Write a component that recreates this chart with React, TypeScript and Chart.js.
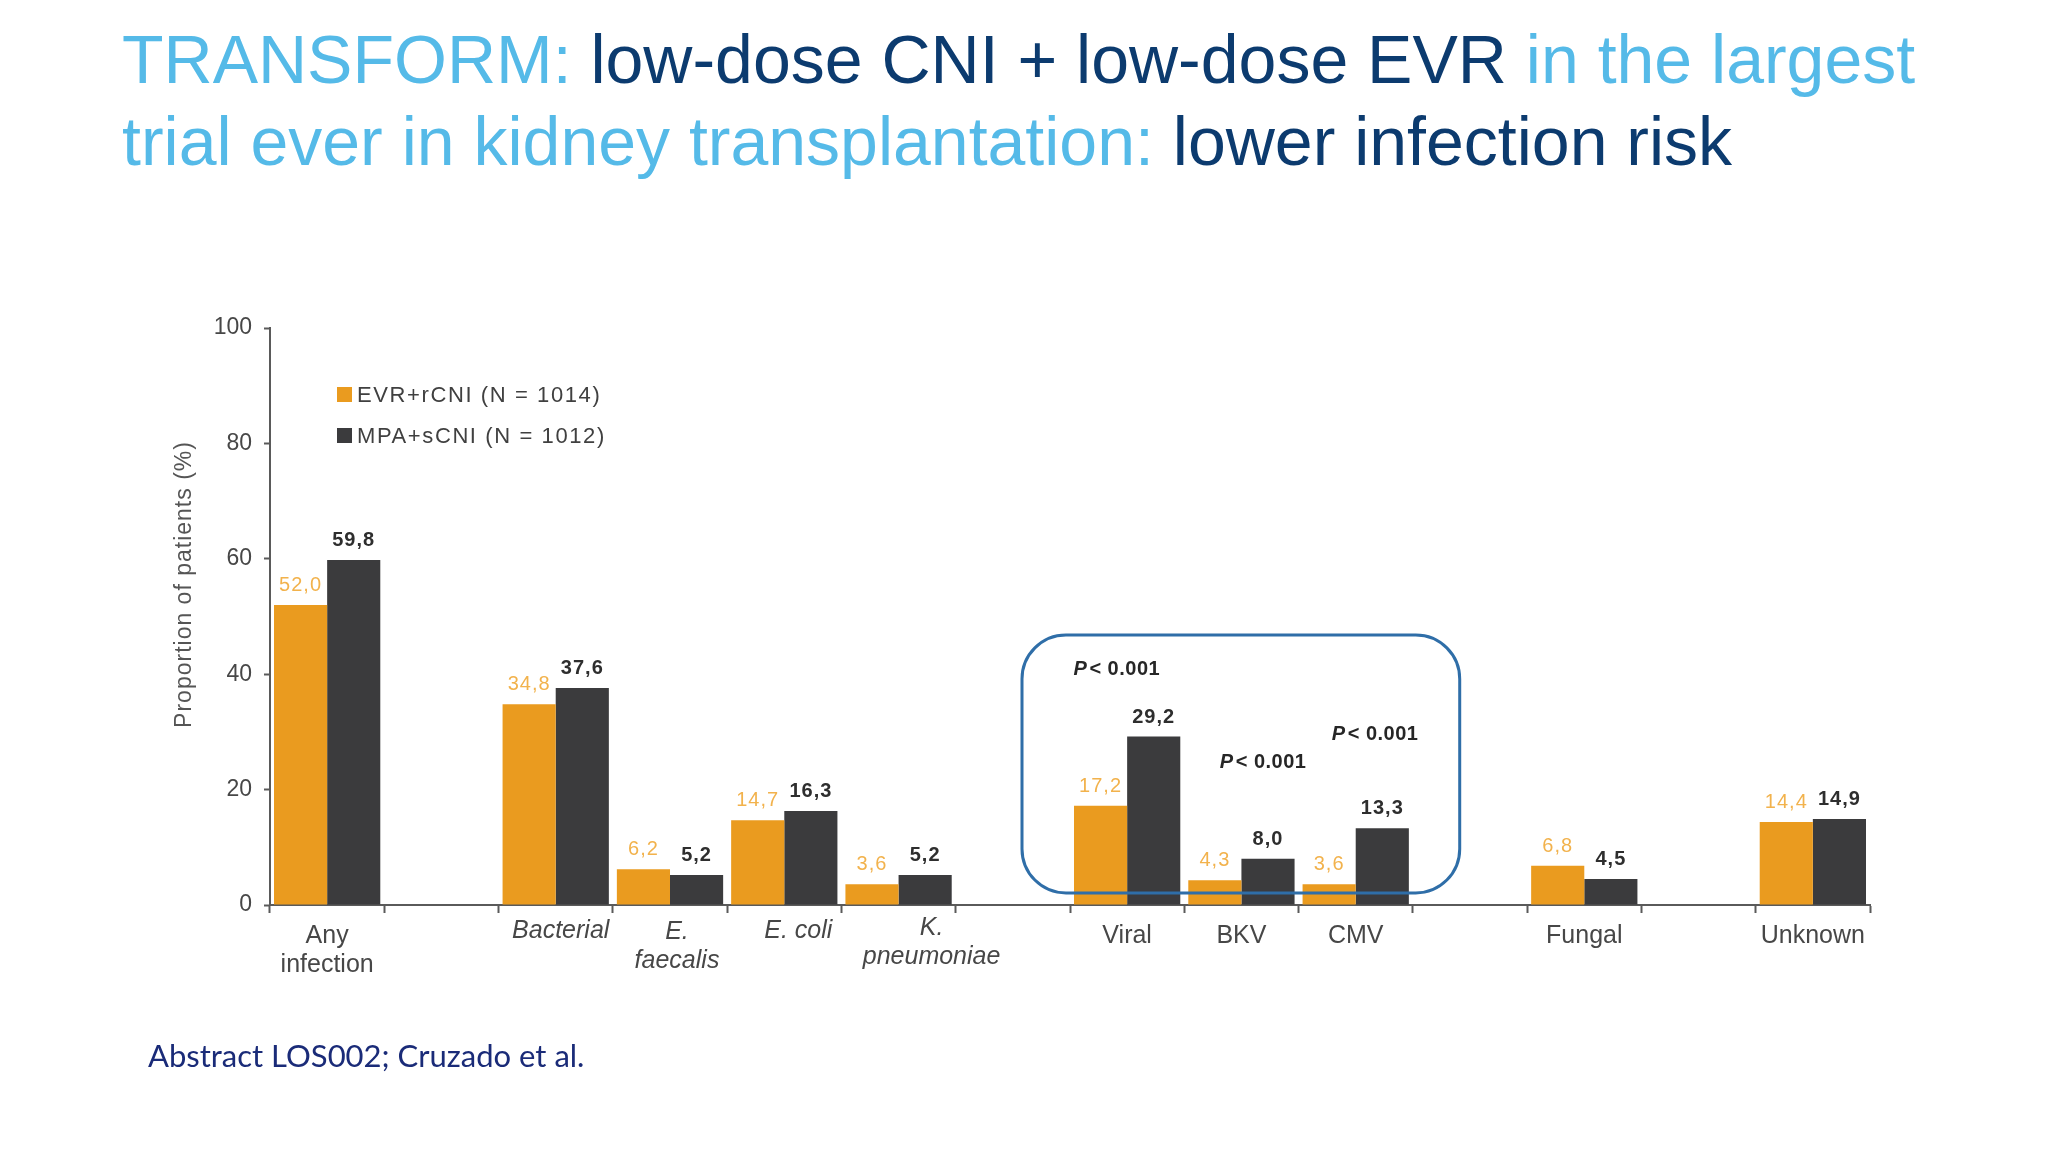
import { useEffect, useRef } from 'react';
import { Chart, registerables } from 'chart.js';

Chart.register(...registerables);

// ---- data ----
const categories: (string | string[])[] = [
  ['Any', 'infection'],
  '',
  'Bacterial',
  ['E.', 'faecalis'],
  'E. coli',
  ['K.', 'pneumoniae'],
  '',
  'Viral',
  'BKV',
  'CMV',
  '',
  'Fungal',
  '',
  'Unknown',
];
const evrRcni = [52.0, null, 34.8, 6.2, 14.7, 3.6, null, 17.2, 4.3, 3.6, null, 6.8, null, 14.4];
const mpaScni = [59.8, null, 37.6, 5.2, 16.3, 5.2, null, 29.2, 8.0, 13.3, null, 4.5, null, 14.9];
const seriesNames = ['EVR+rCNI (N = 1014)', 'MPA+sCNI (N = 1012)'];
const yTickValues = [0, 20, 40, 60, 80, 100];
const yAxisTitle = 'Proportion of patients (%)';
const italicCategories = ['Bacterial', 'E. faecalis', 'E. coli', 'K. pneumoniae'];

// significance notes for the viral group: category position and height on the % axis
const pNoteText = '< 0.001';
const pNoteAt = [6.91, 8.19, 9.17];
const pNoteLevel = [39.9, 23.7, 28.6];

// framed viral group, in category / % units
const viralFrameX = [6.08, 9.91];
const viralFrameY = [2.1, 46.8];

// ---- styles ----
const FONT = "'Liberation Sans', Arial, Helvetica, sans-serif";
const ORANGE = '#EA9B1F';
const DARK = '#3B3B3D';
const ORANGE_TEXT = '#F2B24C';
const AXIS = '#5a5a5a';
const LABEL = '#474747';

// small hand placement of the species labels under their bars (px)
const labelShift: Record<string, [number, number]> = {
  'Bacterial': [5, -5],
  'E. faecalis': [7, -4],
  'E. coli': [14, -5],
  'K. pneumoniae': [33, -8],
};

const fmt = (v: number) => v.toFixed(1).replace('.', ',');
const catName = (c: string | string[]) => (Array.isArray(c) ? c.join(' ') : c);

const overlay = {
  id: 'overlay',
  beforeDraw(chart: any) {
    const xs = chart.scales.x;
    const items = xs.getLabelItems(chart.chartArea);
    items.forEach((item: any, i: number) => {
      const shift = labelShift[catName(categories[i] ?? '')];
      if (!shift || item._shifted) return;
      item.options.translation = [
        item.options.translation[0] + shift[0],
        item.options.translation[1] + shift[1],
      ];
      item._shifted = true;
    });
  },
  afterDatasetsDraw(chart: any) {
    const { ctx, scales, chartArea } = chart;
    const xs = scales.x;
    const ys = scales.y;
    ctx.save();

    // value labels above bars
    ctx.textAlign = 'center';
    ctx.textBaseline = 'alphabetic';
    (ctx as any).letterSpacing = '1px';
    chart.data.datasets.forEach((ds: any, di: number) => {
      const meta = chart.getDatasetMeta(di);
      meta.data.forEach((bar: any, i: number) => {
        const v = ds.data[i];
        if (v === null || v === undefined) return;
        if (di === 0) {
          ctx.font = `normal 20px ${FONT}`;
          ctx.fillStyle = ORANGE_TEXT;
        } else {
          ctx.font = `bold 20px ${FONT}`;
          ctx.fillStyle = '#2e2e2e';
        }
        ctx.fillText(fmt(v), bar.x, bar.y - 14);
      });
    });

    // P-value notes
    (ctx as any).letterSpacing = '0.5px';
    ctx.fillStyle = '#262626';
    ctx.textAlign = 'left';
    pNoteAt.forEach((at, i) => {
      const cx = xs.getPixelForValue(at);
      const by = ys.getPixelForValue(pNoteLevel[i]);
      ctx.font = `italic bold 20px ${FONT}`;
      const wp = ctx.measureText('P').width;
      ctx.font = `bold 20px ${FONT}`;
      const wr = ctx.measureText(pNoteText).width;
      const gap = 2;
      const x0 = cx - (wp + gap + wr) / 2;
      ctx.font = `italic bold 20px ${FONT}`;
      ctx.fillText('P', x0, by);
      ctx.font = `bold 20px ${FONT}`;
      ctx.fillText(pNoteText, x0 + wp + gap, by);
    });

    // rounded frame around viral group
    const fx0 = xs.getPixelForValue(viralFrameX[0]);
    const fx1 = xs.getPixelForValue(viralFrameX[1]);
    const fy0 = ys.getPixelForValue(viralFrameY[1]);
    const fy1 = ys.getPixelForValue(viralFrameY[0]);
    ctx.beginPath();
    (ctx as any).roundRect(fx0, fy0, fx1 - fx0, fy1 - fy0, 44);
    ctx.strokeStyle = '#2F6EA8';
    ctx.lineWidth = 3;
    ctx.stroke();

    // legend, top-left inside the plot area
    (ctx as any).letterSpacing = '1.6px';
    ctx.font = `normal 22px ${FONT}`;
    ctx.textAlign = 'left';
    const lx = chartArea.left + 67;
    const ly = [chartArea.top + 74, chartArea.top + 115];
    chart.data.datasets.forEach((ds: any, di: number) => {
      ctx.fillStyle = ds.backgroundColor;
      ctx.fillRect(lx, ly[di] - 15, 15, 15);
      ctx.fillStyle = '#404040';
      ctx.fillText(ds.label, lx + 20, ly[di]);
    });

    ctx.restore();
  },
  afterDraw(chart: any) {
    const { ctx, chartArea } = chart;
    ctx.save();
    (ctx as any).letterSpacing = '1px';
    ctx.font = `normal 23px ${FONT}`;
    ctx.fillStyle = '#555';
    ctx.textAlign = 'center';
    ctx.textBaseline = 'middle';
    ctx.translate(chartArea.left - 85, (chartArea.top + chartArea.bottom) / 2 - 32);
    ctx.rotate(-Math.PI / 2);
    ctx.fillText(yAxisTitle, 0, 0);
    ctx.restore();
  },
};

function InfectionChart() {
  const ref = useRef<HTMLCanvasElement | null>(null);

  useEffect(() => {
    if (!ref.current) return;
    const chart = new Chart(ref.current, {
      type: 'bar',
      data: {
        labels: categories,
        datasets: [
          { label: seriesNames[0], data: evrRcni, backgroundColor: ORANGE, borderWidth: 0 },
          { label: seriesNames[1], data: mpaScni, backgroundColor: DARK, borderWidth: 0 },
        ],
      },
      options: {
        animation: false,
        responsive: false,
        devicePixelRatio: 1,
        layout: { padding: { left: 170, top: 328, right: 178, bottom: 147 } },
        datasets: { bar: { categoryPercentage: 0.93, barPercentage: 1.0 } },
        plugins: {
          legend: { display: false },
          tooltip: { enabled: false },
        },
        scales: {
          x: {
            offset: true,
            grid: {
              display: true,
              drawOnChartArea: false,
              offset: true,
              tickLength: 8,
              tickColor: AXIS,
              tickWidth: 2,
            },
            border: { display: true, color: AXIS, width: 2 },
            ticks: {
              autoSkip: false,
              maxRotation: 0,
              minRotation: 0,
              padding: 9,
              color: LABEL,
              font: (c: any) => ({
                family: FONT,
                size: 25,
                lineHeight: 1.16,
                style: italicCategories.includes(catName(categories[c.index] ?? '')) ? 'italic' : 'normal',
              }),
            },
            afterFit: (s: any) => {
              s.height = 100;
            },
          },
          y: {
            min: 0,
            max: 100,
            afterBuildTicks: (s: any) => {
              s.ticks = yTickValues.map((v) => ({ value: v }));
            },
            grid: {
              display: true,
              drawOnChartArea: false,
              tickLength: 6,
              tickColor: AXIS,
              tickWidth: 2,
            },
            border: { display: true, color: AXIS, width: 2 },
            ticks: {
              padding: 12,
              color: LABEL,
              font: { family: FONT, size: 23 },
            },
            afterFit: (s: any) => {
              s.width = 100;
            },
          },
        },
      } as any,
      plugins: [overlay as any],
    });
    return () => chart.destroy();
  }, []);

  return (
    <canvas
      ref={ref}
      width={2048}
      height={1152}
      style={{ position: 'absolute', left: 0, top: 0, width: 2048, height: 1152 }}
    />
  );
}

export default function App() {
  const light = '#55BAE8';
  const navy = '#0C3B6F';
  return (
    <div
      style={{
        position: 'absolute',
        left: 0,
        top: 0,
        width: 2048,
        height: 1152,
        background: '#ffffff',
        overflow: 'hidden',
      }}
    >
      <InfectionChart />
      <div
        style={{
          position: 'absolute',
          left: 122,
          top: 18,
          fontFamily: FONT,
          fontSize: 68,
          lineHeight: '82px',
          whiteSpace: 'nowrap',
        }}
      >
        <span style={{ color: light }}>TRANSFORM: </span>
        <span style={{ color: navy }}>low-dose CNI + low-dose EVR </span>
        <span style={{ color: light }}>in the largest</span>
        <br />
        <span style={{ color: light }}>trial ever in kidney transplantation: </span>
        <span style={{ color: navy }}>lower infection risk</span>
      </div>
      <div
        style={{
          position: 'absolute',
          left: 148,
          top: 1040,
          fontFamily: "Lato, 'Open Sans', sans-serif",
          fontSize: 31,
          lineHeight: 1,
          color: '#1A2B78',
          whiteSpace: 'nowrap',
        }}
      >
        Abstract LOS002; Cruzado et al.
      </div>
    </div>
  );
}
